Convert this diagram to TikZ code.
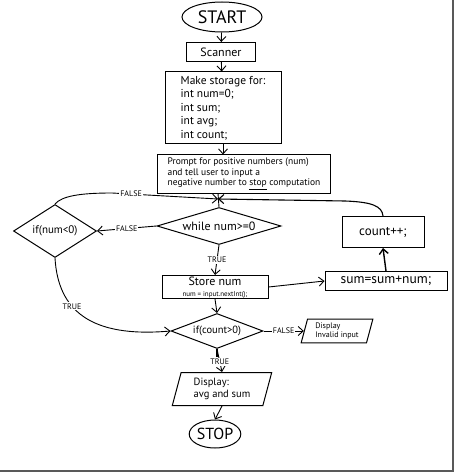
\documentclass[tikz,border=0pt]{standalone}
\usepackage{fontspec}
\setmainfont{PT Sans}
\usetikzlibrary{positioning,shapes.geometric,arrows.meta}

\begin{document}
\begin{tikzpicture}[x=1pt,y=-1pt,
    box/.style={draw, line width=1pt, rectangle, inner sep=2pt},
    decision/.style={draw, line width=1pt, diamond, inner sep=0pt},
    io/.style={draw, line width=1pt, trapezium, trapezium left angle=75,
      trapezium right angle=105, inner sep=1pt, align=left},
    term/.style={draw, line width=1pt, ellipse, inner sep=0pt},
    lab/.style={fill=white, inner sep=1pt, font=\fontsize{8}{9}\selectfont},
    arr/.style={line width=0.9pt, -{Straight Barb[length=5pt,width=9pt]}}]
  \useasboundingbox (0,0) rectangle (454,473);
  % frame of the scan
  \draw[black!65, line width=2pt] (452.5,0) -- (452.5,470.5) -- (0,470.5);

  % main column
  \node[term, minimum width=80, minimum height=30, font=\fontsize{18}{20}\selectfont] (start) at (222,17) {START};
  \node[box, minimum width=69, minimum height=19, font=\fontsize{12}{14}\selectfont] (scan) at (221,52) {Scanner};
  \node[box, minimum width=116, minimum height=72, align=left, font=\fontsize{11.5}{13.5}\selectfont] (vars) at (223,108)
    {Make storage for:\\ int num=0;\\ int sum;\\ int avg;\\ int count;};
  \node[box, minimum width=173, minimum height=38, align=left, font=\fontsize{9.5}{10.5}\selectfont] (prompt) at (244,174)
    {Prompt for positive numbers (num)\\ and tell user to input a\\ negative number to \underline{stop} computation};
  \coordinate (join) at (218,199);
  \node[decision, minimum width=124, minimum height=37, aspect=3.3, font=\fontsize{12}{14}\selectfont] (while) at (219,226) {while num>=0};
  \node[box, minimum width=106, minimum height=23, align=center, inner sep=1pt] (readnum) at (215,287)
    {{\fontsize{12}{12}\selectfont Store num}\\[-1pt] {\fontsize{7}{8}\selectfont num = input.nextInt();}};
  \node[decision, minimum width=92, minimum height=35, aspect=2.6, font=\fontsize{10.5}{12}\selectfont] (ifcnt) at (217,331) {if(count>0)};
  \node[io, minimum width=80, minimum height=33, font=\fontsize{10.5}{12}\selectfont] (show) at (222,389) {Display:\\ avg and sum};
  \node[term, minimum width=50, minimum height=28, font=\fontsize{16}{18}\selectfont] (stop) at (215,434) {STOP};

  % side nodes
  \node[decision, minimum width=83, minimum height=53, aspect=1.6, font=\fontsize{11}{13}\selectfont] (ifneg) at (55,231) {if(num<0)};
  \node[box, minimum width=82, minimum height=31, font=\fontsize{13}{15}\selectfont] (cnt) at (383,232) {count++;};
  \node[box, minimum width=122, minimum height=19, inner sep=1pt, font=\fontsize{13.5}{15}\selectfont] (sum) at (386,281) {sum=sum+num;};
  \node[io, minimum width=72, minimum height=22, font=\fontsize{8}{9}\selectfont] (invalid) at (337,331) {Display\\ Invalid input};

  % connectors
  \draw[arr] (start) -- (scan);
  \draw[arr] (scan) -- (vars);
  \draw[arr] (vars.south) -- (vars.south |- prompt.north);
  \draw[line width=0.9pt] (join |- prompt.south) -- (while.north);
  \draw[arr] (ifneg.north) .. controls (62,196) and (80,193) .. (112,193) -- node[lab, pos=0.18] {FALSE} (join);
  \draw[arr, line width=1.1pt] (cnt.north) .. controls (382,206) and (372,202) .. (345,201) -- (join);
  \draw[arr] (while.west) -- node[lab] {FALSE} (ifneg.east);
  \draw[arr] (while.south) -- node[lab] {TRUE} (readnum.north);
  \draw[arr] (readnum.east) -- (sum.west);
  \draw[arr, line width=1.4pt] (sum.north) -- (cnt.south);
  \draw[arr] (readnum.south) -- (ifcnt.north);
  \draw[arr] (ifneg.south) .. controls (58,310) and (90,338) .. node[lab, pos=0.38] {TRUE} (ifcnt.west);
  \draw[arr] (ifcnt.east) -- node[lab] {FALSE} (invalid.west);
  \draw[line width=2.2pt] (ifcnt.south) -- ++(0,8);
  \draw[arr] (ifcnt.south) -- node[lab, pos=0.55] {TRUE} (show.north);
  \draw[arr] (show.south) -- (stop.north);
\end{tikzpicture}
\end{document}
